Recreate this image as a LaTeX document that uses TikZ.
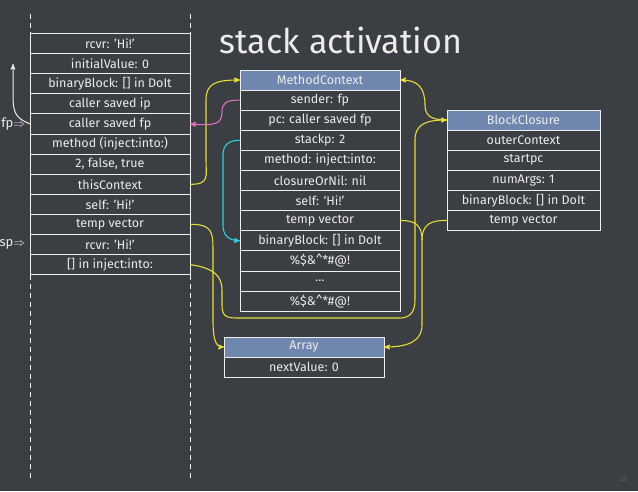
\documentclass[tikz,border=0pt]{standalone}
\usepackage{fontspec}
\setmainfont{Fira Sans}
\usetikzlibrary{arrows,positioning}
\definecolor{bg}{HTML}{3B3E43}
\definecolor{ink}{HTML}{ECECEC}
\definecolor{hdr}{HTML}{6F87AE}
\definecolor{yel}{HTML}{E6DC3C}
\definecolor{pnk}{HTML}{E070C0}
\definecolor{cyn}{HTML}{30D0E0}
\begin{document}
\begin{tikzpicture}[x=1pt, y=-1pt, >=stealth', semithick]
\tikzstyle{row}=[draw=ink!85, line width=0.9pt, minimum height=20.1pt, inner sep=0pt, outer sep=0pt, text=ink, font=\fontsize{12.5}{14}\selectfont]
\tikzstyle{head}=[row, fill=hdr]
\tikzstyle{link}=[->, line width=1.1pt]
\useasboundingbox[fill=bg] (0,0) rectangle (638,491);
\draw[ink!85, line width=1pt, dash pattern=on 5pt off 4pt] (30,14) -- (30,480) (190,14) -- (190,480);
\node[font=\fontsize{34}{36}\selectfont, text=ink] (title) at (341,40) {stack activation};
% the stack
\node[row, minimum width=160pt] (s1) at (110,43.5) {rcvr: 'Hi!'};
\foreach \t [count=\i from 2, evaluate=\i as \j using int(\i-1)] in
  {initialValue: 0, binaryBlock: [] in DoIt, caller saved ip, caller saved fp,
   method (inject:into:), {2, false, true}, thisContext, self: 'Hi!', temp vector,
   rcvr: 'Hi!', [] in inject:into:}
  \node[row, minimum width=160pt, below=0pt of s\j] (s\i) {\t};
\node[text=ink, left=1pt of s5, font=\fontsize{13}{14}\selectfont] (fp) {fp$\Rightarrow$};
\node[text=ink, left=1pt of s11, font=\fontsize{13}{14}\selectfont] (sp) {sp$\Rightarrow$};
\coordinate (up) at (13,64);
\draw[ink, line width=1pt, ->] (s5.west) .. controls (15,118) and (13,112) .. (13,95) -- (up);
% MethodContext
\node[head, minimum width=160pt] (m0) at (320,80) {MethodContext};
\foreach \t [count=\i from 1, evaluate=\i as \j using int(\i-1)] in
  {sender: fp, pc: caller saved fp, stackp: 2, method: inject:into:, closureOrNil: nil,
   self: `Hi!', temp vector, binaryBlock: [] in DoIt, \%\$\&\^{}*\#@!, \dots, \%\$\&\^{}*\#@!}
  \node[row, minimum width=160pt, below=0pt of m\j] (m\i) {\t};
% BlockClosure
\node[head, minimum width=153pt] (b0) at (523.5,120) {BlockClosure};
\foreach \t [count=\i from 1, evaluate=\i as \j using int(\i-1)] in
  {outerContext, startpc, numArgs: 1, binaryBlock: [] in DoIt, temp vector}
  \node[row, minimum width=153pt, below=0pt of b\j] (b\i) {\t};
% Array
\node[head, minimum width=160pt] (a0) at (304,347) {Array};
\node[row, minimum width=160pt, below=0pt of a0] (a1) {nextValue: 0};
\node[text=ink!20!bg, font=\fontsize{7}{8}\selectfont] (pg) at (624,479) {25};
% references
\draw[link, yel] (s8.east) .. controls (210,185) and (206,175) .. (206,160) -- (206,100)
  .. controls (206,84) and (215,80) .. (m0.west);
\draw[link, pnk] (m1.west) .. controls (226,100) and (222,103) .. (222,112)
  .. controls (222,124) and (215,126) .. (s5.east);
\draw[link, cyn] (m3.west) .. controls (229,140) and (223,145) .. (223,155) -- (223,225)
  .. controls (223,236) and (229,240) .. (m8.west);
\draw[link, yel] (s10.east) .. controls (212,224) and (213,232) .. (213,250) -- (213,320)
  .. controls (213,340) and (216,347) .. (a0.west);
\draw[link, yel] (s12.east) .. controls (216,268) and (222,278) .. (222,290) -- (222,305)
  .. controls (222,318) and (228,318) .. (240,318) -- (400,318)
  .. controls (410,318) and (415,312) .. (415,300) -- (415,140)
  .. controls (415,125) and (425,120) .. (b0.west);
\draw[link, yel] (b0.west) .. controls (430,120) and (425,115) .. (425,105)
  .. controls (425,88) and (418,80) .. (m0.east);
\draw[link, yel] (m7.east) .. controls (415,220) and (422,225) .. (422,240) -- (422,325)
  .. controls (422,340) and (410,347) .. (a0.east);
\draw[yel, line width=1.1pt] (b5.west) .. controls (430,220) and (422,225) .. (422,240);
\end{tikzpicture}
\end{document}
